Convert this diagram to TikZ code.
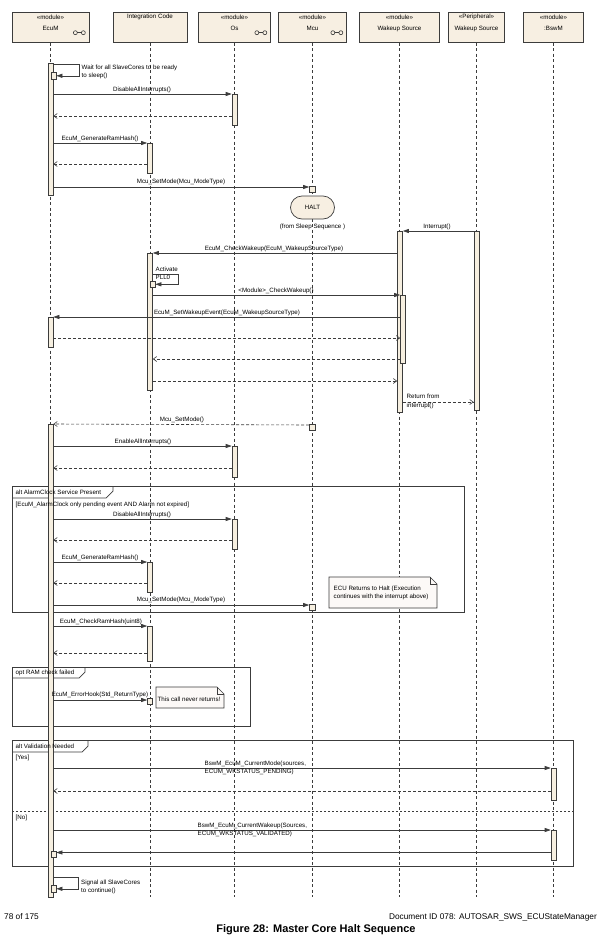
\documentclass[tikz,border=0pt]{standalone}
\usepackage{fontspec}
\setmainfont{Liberation Sans}
\usetikzlibrary{arrows.meta,calc,shapes.misc}
\definecolor{boxfill}{RGB}{247,239,226}
\definecolor{barfill}{RGB}{246,239,224}
\definecolor{ln}{RGB}{60,60,60}
\definecolor{notefill}{RGB}{252,249,247}
\begin{document}
\begin{tikzpicture}[x=1pt,y=-1pt,
  txt/.style={font=\fontsize{6.2}{7.4}\selectfont, inner sep=0.5pt, text=black},
  twol/.style={txt, align=left, font=\fontsize{6.2}{8.5}\selectfont},
  lifebox/.style={draw=ln, fill=boxfill, line width=0.7pt, minimum height=30pt, inner sep=0, anchor=north},
  lifeline/.style={draw=ln, line width=0.6pt, dash pattern=on 3pt off 2.5pt},
  actbar/.style={draw=ln, fill=barfill, line width=0.6pt, minimum width=5pt, inner sep=0, anchor=north},
  smallbox/.style={actbar, minimum width=5pt, minimum height=6pt},
  call/.style={draw=ln, line width=0.6pt, -{Triangle[length=6pt,width=4pt]}},
  ret/.style={draw=ln, line width=0.6pt, dash pattern=on 3pt off 2pt, -{Straight Barb[length=3.5pt,width=5pt]}},
  fragment/.style={draw=ln, line width=0.7pt, inner sep=0, anchor=north west},
  notebox/.style={draw=ln, fill=notefill, line width=0.6pt},
  icon/.style={draw=ln, line width=0.6pt}
]
\useasboundingbox[fill=white] (0,0) rectangle (600,940);

% ---------- header boxes ----------
\node[lifebox, minimum width=77pt] (ecum) at (50.5,12) {};
\node[lifebox, minimum width=74pt] (intc) at (150,12) {};
\node[lifebox, minimum width=72pt] (os) at (234.5,12) {};
\node[lifebox, minimum width=68pt] (mcu) at (312.5,12) {};
\node[lifebox, minimum width=80pt] (wus) at (399.5,12) {};
\node[lifebox, minimum width=56pt] (pws) at (476.5,12) {};
\node[lifebox, minimum width=60pt] (bswm) at (553.5,12) {};

\node[txt] (ecumS) at (50.5,17) {«module»};
\node[txt] (ecumN) at (50.5,28.5) {EcuM};
\node[txt] (intcN) at (150,17) {Integration Code};
\node[txt] (osS) at (234.5,17) {«module»};
\node[txt] (osN) at (234.5,28.5) {Os};
\node[txt] (mcuS) at (312.5,17) {«module»};
\node[txt] (mcuN) at (312.5,28.5) {Mcu};
\node[txt] (wusS) at (399.5,17) {«module»};
\node[txt] (wusN) at (399.5,28.5) {Wakeup Source};
\node[txt] (pwsS) at (476.5,17) {«Peripheral»};
\node[txt] (pwsN) at (476.5,28.5) {Wakeup Source};
\node[txt] (bswmS) at (553.5,17) {«module»};
\node[txt] (bswmN) at (553.5,28.5) {:BswM};

\foreach \b in {ecum,os,mcu}{
  \draw[icon] ($(\b.south east)+(-14,-10)$) circle (2pt);
  \draw[icon] ($(\b.south east)+(-6,-10)$) circle (2pt);
  \draw[icon] ($(\b.south east)+(-12,-10)$) -- ($(\b.south east)+(-8,-10)$);
}

% ---------- lifelines ----------
\foreach \b in {ecum,intc,os,mcu,wus,pws,bswm}{
  \draw[lifeline] (\b.south) -- (\b.south |- 0,897);
}

% ---------- fragments ----------
\node[fragment, minimum width=452pt, minimum height=126pt] (alt1) at (12,486) {};
\draw[fragment] (12,498) -- (106,498) -- (113,491) -- (113,486);

\node[fragment, minimum width=238pt, minimum height=59pt] (opt1) at (12,667) {};
\draw[fragment] (12,678) -- (79,678) -- (85,672) -- (85,667);

\node[fragment, minimum width=561pt, minimum height=126pt] (alt2) at (12,740) {};
\draw[fragment] (12,752) -- (82,752) -- (88,746) -- (88,740);
\draw[draw=ln, line width=0.6pt, dash pattern=on 2pt off 2pt] (alt2.west |- 0,811) -- (alt2.east |- 0,811);

% ---------- activation bars ----------
\node[actbar, minimum height=132pt] (e1) at (50.5,63) {};
\node[smallbox, minimum height=7pt] (s1) at (53.5,72) {};
\node[actbar, minimum height=31pt] (o1) at (234.5,94) {};
\node[actbar, minimum height=30pt] (i1) at (150,143) {};
\node[smallbox, minimum width=6pt] (m1) at (312.5,186) {};
\node[actbar, minimum height=181pt] (w1) at (400,231) {};
\node[actbar, minimum height=179pt] (p1) at (476.5,231) {};
\node[actbar, minimum height=137pt] (i2) at (150,253) {};
\node[smallbox] (i3) at (152.5,281) {};
\node[actbar, minimum height=68pt] (w2) at (403,295) {};
\node[actbar, minimum height=30pt] (e2) at (50.5,317) {};
\node[smallbox, minimum width=6pt] (m2) at (312.5,424) {};
\node[actbar, minimum height=473pt] (e3) at (50.5,424) {};
\node[actbar, minimum height=31pt] (o2) at (234.5,446) {};
\node[actbar, minimum height=30pt] (o3) at (234.5,519) {};
\node[actbar, minimum height=30pt] (i4) at (150,562) {};
\node[smallbox, minimum width=6pt] (m3) at (312.5,603.5) {};
\node[actbar, minimum height=35pt] (i5) at (150,626) {};
\node[smallbox] (i6) at (150,698) {};
\node[actbar, minimum height=32pt] (b1) at (553.5,768) {};
\node[actbar, minimum height=30pt] (b2) at (553.5,830) {};
\node[smallbox] (e4) at (53.5,851) {};
\node[smallbox, minimum height=7pt] (e5) at (53.5,885) {};

% ---------- fragment texts (over the bars) ----------
\node[txt, anchor=west] (alt1l) at (15,492) {alt AlarmClock Service Present};
\node[txt, anchor=west] (alt1g) at (15,505) {[EcuM\_AlarmClock only pending event AND Alarm not expired]};
\node[txt, anchor=west] (opt1l) at (15,672.5) {opt RAM check failed};
\node[txt, anchor=west] (alt2l) at (15,746) {alt Validation Needed};
\node[txt, anchor=west] (alt2y) at (15,758) {[Yes]};
\node[txt, anchor=west] (alt2n) at (15,818) {[No]};

% ---------- HALT ----------
\node[draw=ln, fill=boxfill, rounded rectangle, line width=0.7pt, minimum width=45pt, minimum height=23pt, txt] (halt) at (312.5,207.5) {HALT};
\node[txt] (haltf) at (312.5,227) {(from Sleep Sequence )};

% ---------- messages ----------
\draw[call] (e1.east |- 0,64) -- ++(26,0) |- (s1.east);
\node[twol, anchor=north west, font=\fontsize{6.2}{7.6}\selectfont] (t1) at (81,64.5) {Wait for all SlaveCores to be ready\\to sleep()};

\draw[call] (e1.east |- o1.north) -- (o1.north west);
\node[txt, anchor=south] (t2) at (142,93) {DisableAllInterrupts()};
\draw[ret] (o1.west |- 0,116) -- (e1.east |- 0,116);

\draw[call] (e1.east |- i1.north) -- (i1.north west);
\node[txt, anchor=south] (t3) at (100,142) {EcuM\_GenerateRamHash()};
\draw[ret] (i1.west |- 0,164) -- (e1.east |- 0,164);

\draw[call] (e1.east |- 0,187) -- (m1.west |- 0,187);
\node[txt, anchor=south] (t4) at (181,185.5) {Mcu\_SetMode(Mcu\_ModeType)};

\draw[call] (p1.north west) -- (w1.north east);
\node[txt, anchor=south] (t5) at (437,230) {Interrupt()};

\draw[call] (w1.west |- i2.north) -- (i2.north east);
\node[txt, anchor=south] (t6) at (274,252) {EcuM\_CheckWakeup(EcuM\_WakeupSourceType)};

\draw[call] (i2.east |- 0,274) -- ++(25.5,0) |- (i3.east);
\node[twol, anchor=north west, font=\fontsize{6.2}{7.8}\selectfont] (t7) at (155,266.5) {Activate\\PLL0};

\draw[call] (i2.east |- w2.north) -- (w2.north west);
\node[txt, anchor=south] (t8) at (276,294) {<Module>\_CheckWakeup()};

\draw[call] (w2.west |- e2.north) -- (e2.north east);
\node[txt, anchor=south] (t9) at (227,316) {EcuM\_SetWakeupEvent(EcuM\_WakeupSourceType)};

\draw[ret] (e2.east |- 0,338) -- (w2.west |- 0,338);
\draw[ret] (w2.west |- 0,359) -- (i2.east |- 0,359);
\draw[ret] (i2.east |- 0,381) -- (w1.west |- 0,381);

\draw[ret] (w1.east |- 0,402) -- (p1.west |- 0,402);
\node[twol, anchor=west] (t10) at (406,401.5) {Return from\\interrupt()};

\draw[ret] (m2.west |- 0,425) -- (e3.north east);
\node[txt, anchor=south] (t11) at (182,423) {Mcu\_SetMode()};

\draw[call] (e3.east |- o2.north) -- (o2.north west);
\node[txt, anchor=south] (t12) at (143,445) {EnableAllInterrupts()};
\draw[ret] (o2.west |- 0,468) -- (e3.east |- 0,468);

\draw[call] (e3.east |- o3.north) -- (o3.north west);
\node[txt, anchor=south] (t13) at (142,518) {DisableAllInterrupts()};
\draw[ret] (o3.west |- 0,540) -- (e3.east |- 0,540);

\draw[call] (e3.east |- i4.north) -- (i4.north west);
\node[txt, anchor=south] (t14) at (100,561) {EcuM\_GenerateRamHash()};
\draw[ret] (i4.west |- 0,583) -- (e3.east |- 0,583);

\draw[call] (e3.east |- 0,605) -- (m3.west |- 0,605);
\node[txt, anchor=south] (t15) at (181,603.5) {Mcu\_SetMode(Mcu\_ModeType)};

\draw[notebox] (329,577) -- (430,577) -- (437,584) -- (437,608) -- (329,608) -- cycle;
\draw[draw=ln, line width=0.6pt] (430,577) -- (430,584) -- (437,584);
\node[twol, anchor=north west] (n1) at (333,585) {ECU Returns to Halt (Execution\\continues with the interrupt above)};

\draw[call] (e3.east |- i5.north) -- (i5.north west);
\node[txt, anchor=south] (t16) at (101,625) {EcuM\_CheckRamHash(uint8)};
\draw[ret] (i5.west |- 0,653) -- (e3.east |- 0,653);

\draw[call] (e3.east |- 0,700) -- (i6.west |- 0,700);
\node[txt, anchor=south] (t17) at (100,698.5) {EcuM\_ErrorHook(Std\_ReturnType)};

\draw[notebox] (156,687) -- (217,687) -- (224,694) -- (224,708) -- (156,708) -- cycle;
\draw[draw=ln, line width=0.6pt] (217,687) -- (217,694) -- (224,694);
\node[txt] (n2) at (189,699) {This call never returns!};

\draw[call] (e3.east |- b1.north) -- (b1.north west);
\node[twol, anchor=west] (t18) at (204,768) {BswM\_EcuM\_CurrentMode(sources,\\ECUM\_WKSTATUS\_PENDING)};
\draw[ret] (b1.west |- 0,791) -- (e3.east |- 0,791);

\draw[call] (e3.east |- b2.north) -- (b2.north west);
\node[twol, anchor=west] (t19) at (197,830) {BswM\_EcuM\_CurrentWakeup(Sources,\\ECUM\_WKSTATUS\_VALIDATED)};
\draw[call] (b2.west |- 0,852.5) -- (e4.east |- 0,852.5);

\draw[call] (e3.east |- 0,877) -- ++(24.5,0) |- (e5.east);
\node[twol, anchor=north west, font=\fontsize{6.2}{7.8}\selectfont] (t20) at (80.5,879) {Signal all SlaveCores\\to continue()};

% ---------- footer ----------
\node[anchor=west, inner sep=0, font=\fontsize{8.3}{10}\selectfont] (pg) at (4,917) {78 of 175};
\node[anchor=east, inner sep=0, font=\fontsize{8.3}{10}\selectfont] (doc) at (597,917) {Document ID 078: AUTOSAR\_SWS\_ECUStateManager};
\node[inner sep=0, font=\bfseries\fontsize{11}{13}\selectfont] (cap) at (316,930) {Figure 28: Master Core Halt Sequence};
\end{tikzpicture}
\end{document}
